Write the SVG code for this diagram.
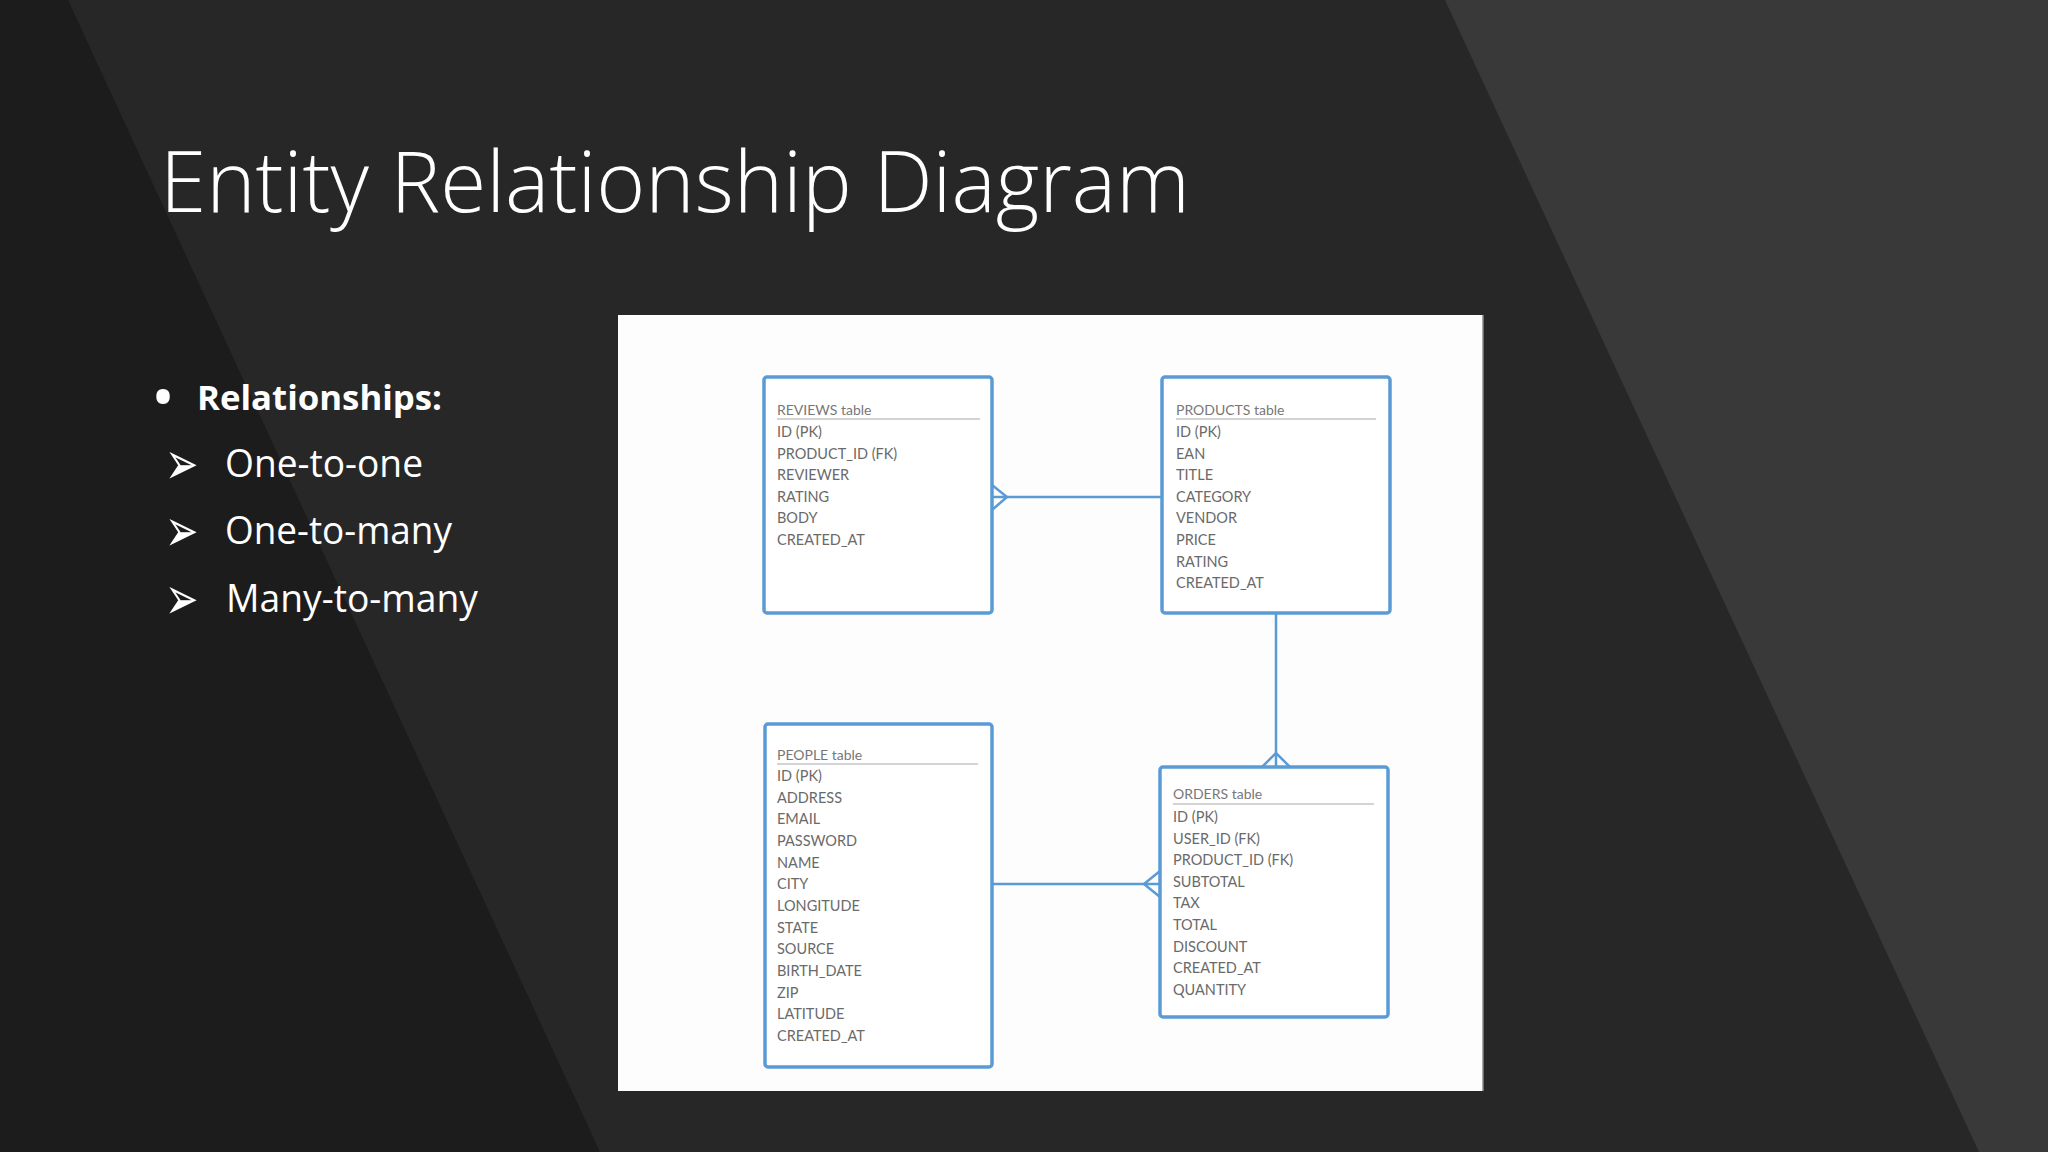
<svg xmlns="http://www.w3.org/2000/svg" width="2048" height="1152" viewBox="0 0 2048 1152">
<style>
.title{font-family:"Open Sans","Liberation Sans",sans-serif;font-weight:300;fill:#ffffff}
.bul{font-family:"Open Sans","Liberation Sans",sans-serif;fill:#ffffff}
.arw{font-family:"DejaVu Sans",sans-serif;font-size:40px;fill:#ffffff}
.tbl{fill:#ffffff;stroke:#5b9bd5;stroke-width:3.5}
.hd{font-family:Lato,"Liberation Sans",sans-serif;font-size:14px;fill:#777777}
.row{font-family:Lato,"Liberation Sans",sans-serif;font-size:14.5px;fill:#6a6a6a}
.ul{stroke:#a8a8a8;stroke-width:1.2}
.cn{fill:none;stroke:#5b9bd5;stroke-width:2.5}
</style>
<rect x="0" y="0" width="2048" height="1152" fill="#272728"/>
<polygon points="0,0 68,0 600,1152 0,1152" fill="#1c1c1c"/>
<polygon points="1445,0 2048,0 2048,1152 1979,1152" fill="#39393a"/>
<text class="title" x="160" y="212" font-size="84" textLength="1030" lengthAdjust="spacingAndGlyphs">Entity Relationship Diagram</text>
<g id="bullets">
<text class="bul" x="163" y="420" font-size="64" text-anchor="middle">•</text>
<text class="bul" x="197" y="410" font-size="34" font-weight="bold" textLength="245" lengthAdjust="spacingAndGlyphs">Relationships:</text>
<text class="arw" transform="translate(165,484) scale(1,1.5)">➢</text>
<text class="bul" x="225" y="477" font-size="38" textLength="198" lengthAdjust="spacingAndGlyphs">One-to-one</text>
<text class="arw" transform="translate(165,551) scale(1,1.5)">➢</text>
<text class="bul" x="225" y="544" font-size="38" textLength="227" lengthAdjust="spacingAndGlyphs">One-to-many</text>
<text class="arw" transform="translate(165,619) scale(1,1.5)">➢</text>
<text class="bul" x="226" y="612" font-size="38" textLength="252" lengthAdjust="spacingAndGlyphs">Many-to-many</text>
</g>
<rect x="618" y="315" width="865" height="776" fill="#fdfdfe"/>
<line x1="1483" y1="315" x2="1483" y2="1091" stroke="#8a8a8a" stroke-width="1.5"/>
<g id="connectors">
<line class="cn" x1="992" y1="497" x2="1162" y2="497"/>
<polyline class="cn" points="992,485 1007,497 992,510"/>
<line class="cn" x1="1276" y1="613" x2="1276" y2="767"/>
<polyline class="cn" points="1262,767 1276,753 1290,767"/>
<line class="cn" x1="992" y1="884" x2="1160" y2="884"/>
<polyline class="cn" points="1160,871 1144,884 1160,897"/>
</g>
<g id="reviews">
<rect class="tbl" x="764" y="377" width="228" height="236" rx="3"/>
<text class="hd" x="777" y="415">REVIEWS table</text>
<line class="ul" x1="777" y1="419" x2="980" y2="419"/>
<text class="row" x="777" y="437">ID (PK)</text>
<text class="row" x="777" y="458.6">PRODUCT_ID (FK)</text>
<text class="row" x="777" y="480.2">REVIEWER</text>
<text class="row" x="777" y="501.8">RATING</text>
<text class="row" x="777" y="523.4">BODY</text>
<text class="row" x="777" y="545">CREATED_AT</text>
</g>
<g id="products">
<rect class="tbl" x="1162" y="377" width="228" height="236" rx="3"/>
<text class="hd" x="1176" y="415">PRODUCTS table</text>
<line class="ul" x1="1176" y1="419" x2="1376" y2="419"/>
<text class="row" x="1176" y="437">ID (PK)</text>
<text class="row" x="1176" y="458.6">EAN</text>
<text class="row" x="1176" y="480.2">TITLE</text>
<text class="row" x="1176" y="501.8">CATEGORY</text>
<text class="row" x="1176" y="523.4">VENDOR</text>
<text class="row" x="1176" y="545">PRICE</text>
<text class="row" x="1176" y="566.6">RATING</text>
<text class="row" x="1176" y="588.2">CREATED_AT</text>
</g>
<g id="people">
<rect class="tbl" x="765" y="724" width="227" height="343" rx="3"/>
<text class="hd" x="777" y="760">PEOPLE table</text>
<line class="ul" x1="777" y1="764" x2="978" y2="764"/>
<text class="row" x="777" y="781">ID (PK)</text>
<text class="row" x="777" y="802.6">ADDRESS</text>
<text class="row" x="777" y="824.3">EMAIL</text>
<text class="row" x="777" y="845.9">PASSWORD</text>
<text class="row" x="777" y="867.6">NAME</text>
<text class="row" x="777" y="889.2">CITY</text>
<text class="row" x="777" y="910.9">LONGITUDE</text>
<text class="row" x="777" y="932.5">STATE</text>
<text class="row" x="777" y="954.2">SOURCE</text>
<text class="row" x="777" y="975.8">BIRTH_DATE</text>
<text class="row" x="777" y="997.5">ZIP</text>
<text class="row" x="777" y="1019.1">LATITUDE</text>
<text class="row" x="777" y="1040.8">CREATED_AT</text>
</g>
<g id="orders">
<rect class="tbl" x="1160" y="767" width="228" height="250" rx="3"/>
<text class="hd" x="1173" y="799">ORDERS table</text>
<line class="ul" x1="1173" y1="804" x2="1374" y2="804"/>
<text class="row" x="1173" y="822">ID (PK)</text>
<text class="row" x="1173" y="843.6">USER_ID (FK)</text>
<text class="row" x="1173" y="865.2">PRODUCT_ID (FK)</text>
<text class="row" x="1173" y="886.8">SUBTOTAL</text>
<text class="row" x="1173" y="908.4">TAX</text>
<text class="row" x="1173" y="930">TOTAL</text>
<text class="row" x="1173" y="951.6">DISCOUNT</text>
<text class="row" x="1173" y="973.2">CREATED_AT</text>
<text class="row" x="1173" y="994.8">QUANTITY</text>
</g>
</svg>
